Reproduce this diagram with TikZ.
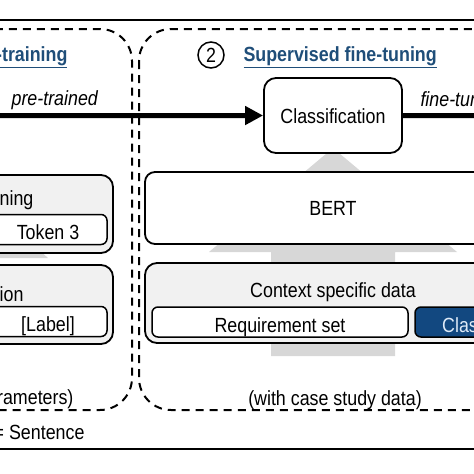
\documentclass[tikz,border=0pt]{standalone}
\usepackage{fontspec}
\setmainfont{Liberation Sans}[FakeStretch=0.87]
\usepackage{xcolor}
\usepackage{tikz}
\usetikzlibrary{positioning,arrows.meta}

\definecolor{ttlblue}{RGB}{31,78,121}
\definecolor{darkfill}{RGB}{18,72,128}
\definecolor{paletext}{RGB}{222,234,247}
\definecolor{panelfill}{RGB}{241,241,241}
\definecolor{flowgray}{RGB}{215,215,215}

\begin{document}
\begin{tikzpicture}[x=1pt, y=-1pt,
  font=\fontsize{20.5}{24}\selectfont,
  box/.style={draw, line width=1.8pt, rounded corners=10pt, inner sep=0pt, fill=white, text height=15pt, text depth=0pt},
  panel/.style={draw, line width=1.8pt, rounded corners=12pt, inner sep=0pt, fill=panelfill},
  inbox/.style={draw, line width=1.5pt, rounded corners=6pt, inner sep=0pt, fill=white, minimum height=30pt, text height=19pt, text depth=0pt},
  phase/.style={line width=2pt, dash pattern=on 8pt off 6pt, rounded corners=32pt},
  ttl/.style={text=ttlblue, font=\fontsize{20.5}{24}\selectfont\bfseries},
  arr/.style={-{Triangle[length=18pt,width=18pt]}, line width=5pt}]
\useasboundingbox (0,0) rectangle (474,474);
\clip (0,0) rectangle (474,474);

% frame and the two phases
\draw[line width=2pt] (-20,20) rectangle (500,449);
\draw[phase] (-282,29) rectangle (132,410);
\draw[phase] (139,29) rectangle (528,410);

% gray flow arrows behind the boxes
\fill[flowgray] (-76,148) -- (48,258) -- (-14,258) -- (-14,356) -- (-138,356) -- (-138,258) -- (-200,258) -- cycle;
\fill[flowgray] (333,148) -- (457,252) -- (395,252) -- (395,356) -- (271,356) -- (271,252) -- (209,252) -- cycle;

% titles
\node[ttl, anchor=base east] (tpre) at (71,61) {\underline{Pre-training}};
\node[draw, circle, line width=1.5pt, minimum size=26pt, inner sep=0pt] (num) at (211,55) {2};
\node[ttl, anchor=base west] (tsup) at (240,61) {\underline{Supervised fine-tuning}};

% pre-training panel
\node[panel, minimum width=378pt, minimum height=78pt] (mlm) at (-76,214) {};
\node[anchor=base east] (mlmt) at (37,205) {Masked language learning};
\node[inbox, minimum width=118pt] (tok) at (48,229.5) {Token 3};
\node[panel, minimum width=378pt, minimum height=79pt] (nsp) at (-76,304.5) {};
\node[anchor=base east] (nspt) at (27,301) {Next sentence prediction};
\node[inbox, minimum width=118pt] (lbl) at (48,321.5) {[Label]};
\node[anchor=base east] (par) at (77,404) {(general parameters)};

% fine-tuning panel
\node[box, minimum width=138pt, minimum height=75pt, rounded corners=12pt] (cls) at (333,115.5) {Classification};
\node[box, minimum width=376pt, minimum height=72pt] (bert) at (333,208) {BERT};
\node[panel, minimum width=376pt, minimum height=80pt] (ctx) at (333,303) {};
\node[anchor=base] (ctxt) at (333,297) {Context specific data};
\node[inbox, minimum width=256pt, text height=20pt] (req) at (280,322) {Requirement set};
\node[inbox, minimum width=99pt, text height=20pt, fill=darkfill, text=paletext] (cl) at (464.5,322) {Class};
\node[anchor=base] (data) at (335,405) {(with case study data)};

% legend
\node[anchor=base east] (leg) at (88,439) {S = Sentence};

% model flow
\coordinate (src) at (-300,116);
\coordinate (dst) at (560,116);
\draw[arr] (src) -- node[pos=0.63, anchor=base, yshift=10pt, font=\fontsize{20.5}{24}\selectfont\itshape] (pt) {pre-trained} (cls.west);
\draw[line width=5pt] (cls.east) -- (dst);
\node[anchor=base west, font=\fontsize{20.5}{24}\selectfont\itshape] (ft) at (417,106) {fine-tuned};
\end{tikzpicture}
\end{document}
